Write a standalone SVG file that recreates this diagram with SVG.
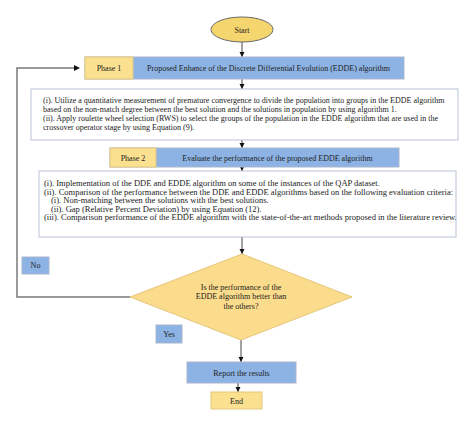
<svg xmlns="http://www.w3.org/2000/svg" width="474" height="426" viewBox="0 0 474 426">
<defs>
<marker id="ah" markerWidth="6" markerHeight="6" refX="5" refY="3" orient="auto" markerUnits="userSpaceOnUse">
<path d="M0,0.5 L5,3 L0,5.5 Z" fill="#111"/>
</marker>
<style>
text{font-family:"Liberation Serif","Times New Roman",serif;fill:#222}
.y{fill:#fbe08f;stroke:#e2c77f;stroke-width:1}
.b{fill:#8cb3e3;stroke:#a9b7cf;stroke-width:1}
.w{fill:#fff;stroke:#b9c3da;stroke-width:1}
.c{stroke:#444;stroke-width:1;fill:none}
.g{stroke:#7a7a7a;stroke-width:1.5;fill:none}
.t{font-size:8px}
.t2{font-size:8.5px}
.m{font-size:8px;text-anchor:middle}
</style>
</defs>
<rect width="474" height="426" fill="#fff"/>
<g id="connectors">
<line class="c" x1="242" y1="42" x2="242" y2="57" marker-end="url(#ah)"/>
<line class="c" x1="242" y1="79" x2="242" y2="89" marker-end="url(#ah)"/>
<line class="c" x1="242" y1="140" x2="242" y2="148" marker-end="url(#ah)"/>
<line class="c" x1="242" y1="167" x2="242" y2="171" marker-end="url(#ah)"/>
<line class="c" x1="242" y1="237" x2="242" y2="254" marker-end="url(#ah)"/>
<line class="c" x1="241" y1="340" x2="241" y2="362" marker-end="url(#ah)"/>
<line class="c" x1="238" y1="383" x2="238" y2="392" marker-end="url(#ah)"/>
<polyline class="g" points="130,297 17,297 17,68 74,68"/>
<path d="M74,65 L80,68 L74,71 Z" fill="#111"/>
</g>
<g id="start">
<ellipse cx="242" cy="29.5" rx="31" ry="12.5" fill="#f5d66e" stroke="#6a6a6a" stroke-width="1"/>
<text class="m" x="242" y="32.5">Start</text>
</g>
<g id="phase1">
<rect class="b" x="85" y="57" width="319" height="22"/>
<rect class="y" x="85" y="57" width="48" height="22"/>
<text class="m" x="109" y="71">Phase 1</text>
<text class="m" x="268.5" y="71">Proposed Enhance of the Discrete Differential Evolution (EDDE) algorithm</text>
</g>
<g id="box1">
<rect class="w" x="31" y="89" width="427" height="51"/>
<text class="t" x="43" y="103">(i). Utilize a quantitative measurement of premature convergence to divide the population into groups in the EDDE algorithm</text>
<text class="t" x="43" y="112">based on the non-match degree between the best solution and the solutions in population by using algorithm 1.</text>
<text class="t" x="43" y="121">(ii). Apply roulette wheel selection (RWS) to select the groups of the population in the EDDE algorithm that are used in the</text>
<text class="t" x="43" y="130">crossover operator stage by using Equation (9).</text>
</g>
<g id="phase2">
<rect class="b" x="110" y="148" width="289" height="19"/>
<rect class="y" x="110" y="148" width="46" height="19"/>
<text class="m" x="133" y="160.5">Phase 2</text>
<text class="m" x="277.5" y="160.5">Evaluate the performance of the proposed EDDE algorithm</text>
</g>
<g id="box2">
<rect class="w" x="39" y="171" width="417" height="66"/>
<text class="t2" x="44" y="186">(i). Implementation of the DDE and EDDE algorithm on some of the instances of the QAP dataset.</text>
<text class="t2" x="44" y="194.5">(ii). Comparison of the performance between the DDE and EDDE algorithms based on the following evaluation criteria:</text>
<text class="t2" x="51" y="203">(i). Non-matching between the solutions with the best solutions.</text>
<text class="t2" x="51" y="211.5">(ii). Gap (Relative Percent Deviation) by using Equation (12).</text>
<text class="t2" x="44" y="220">(iii). Comparison performance of the EDDE algorithm with the state-of-the-art methods proposed in the literature review.</text>
</g>
<g id="decision">
<polygon points="242,254 352,297 241,340 130,297" fill="#fbdc8c" stroke="#e6c57a" stroke-width="1"/>
<text class="m" x="241" y="289.5">Is the performance of the</text>
<text class="m" x="241" y="299">EDDE algorithm better than</text>
<text class="m" x="241" y="308.5">the others?</text>
</g>
<g id="no">
<rect class="b" x="22" y="257" width="27" height="17"/>
<text class="m" x="35.5" y="268">No</text>
</g>
<g id="yes">
<rect class="b" x="156" y="325" width="26" height="18"/>
<text class="m" x="169" y="336.5">Yes</text>
</g>
<g id="report">
<rect class="b" x="187" y="362" width="109" height="21"/>
<text class="m" x="241.5" y="375.5">Report the results</text>
</g>
<g id="end">
<rect class="y" x="211" y="392" width="51" height="17"/>
<text class="m" x="236.5" y="403.5">End</text>
</g>
</svg>
